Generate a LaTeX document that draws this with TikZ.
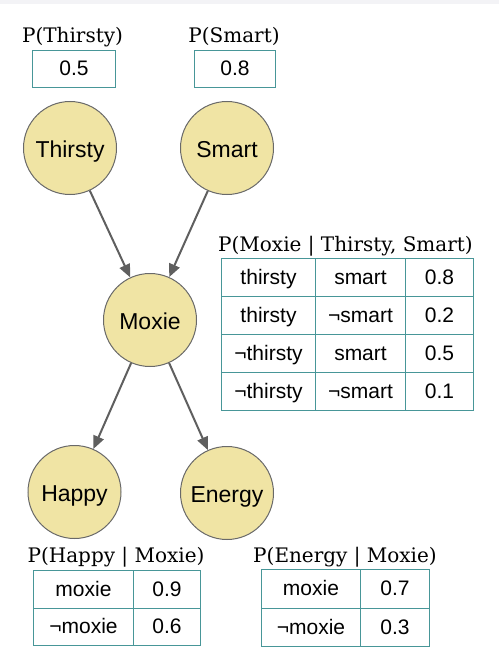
\documentclass[tikz,border=0pt]{standalone}
\usepackage{fontspec}
\setsansfont{Liberation Sans}
\newfontfamily\titlefont{DejaVu Serif}
\usetikzlibrary{arrows.meta}
\definecolor{cpt}{RGB}{72,150,152}
\definecolor{nodefill}{RGB}{240,228,164}
\definecolor{nodeline}{RGB}{105,105,105}
\definecolor{arrowc}{RGB}{95,95,95}
\definecolor{topband}{RGB}{243,243,246}
\tikzset{
  var/.style={circle, draw=nodeline, line width=1pt, fill=nodefill, minimum size=93pt, inner sep=0pt, text height=18pt, text depth=0pt, font=\sffamily\fontsize{23}{27}\selectfont},
  cell/.style={draw=cpt, line width=1pt, inner sep=0pt, anchor=north west, text height=14pt, text depth=0pt, font=\sffamily\fontsize{21}{25}\selectfont},
  ttl/.style={anchor=base, inner sep=0pt, font=\titlefont\fontsize{20}{24}\selectfont},
  edgearrow/.style={draw=arrowc, line width=2pt, -{Triangle[length=13pt,width=11pt]}}
}
\begin{document}
\begin{tikzpicture}[x=1pt,y=-1pt]
\useasboundingbox (0,0) rectangle (499,661);
\fill[topband] (0,0) rectangle (499,4);
% priors
\node[ttl] (tT) at (72.5,43) {P(Thirsty)};
\node[ttl] (tS) at (234,43) {P(Smart)};
\node[cell, minimum width=83pt, minimum height=37pt] (pT) at (32,50) {0.5};
\node[cell, minimum width=81pt, minimum height=37pt] (pS) at (194,50) {0.8};
% variables
\node[var] (thirsty) at (70,148) {Thirsty};
\node[var] (smart) at (227,148) {Smart};
\node[var] (moxie) at (150,320) {Moxie};
\node[var] (happy) at (74.5,492) {Happy};
\node[var] (energy) at (227,493) {Energy};
\draw[edgearrow] (thirsty) -- (moxie);
\draw[edgearrow] (smart) -- (moxie);
\draw[edgearrow] (moxie) -- (happy);
\draw[edgearrow] (moxie) -- (energy);
% Moxie CPT
\node[ttl] (tM) at (345.5,251) {P(Moxie | Thirsty, Smart)};
\node[cell, minimum width=94pt, minimum height=38pt] (m11) at (221,258) {thirsty};
\node[cell, minimum width=90pt, minimum height=38pt] (m12) at (315,258) {smart};
\node[cell, minimum width=68pt, minimum height=38pt] (m13) at (405,258) {0.8};
\node[cell, minimum width=94pt, minimum height=38pt] (m21) at (221,296) {thirsty};
\node[cell, minimum width=90pt, minimum height=38pt] (m22) at (315,296) {¬smart};
\node[cell, minimum width=68pt, minimum height=38pt] (m23) at (405,296) {0.2};
\node[cell, minimum width=94pt, minimum height=38pt] (m31) at (221,334) {¬thirsty};
\node[cell, minimum width=90pt, minimum height=38pt] (m32) at (315,334) {smart};
\node[cell, minimum width=68pt, minimum height=38pt] (m33) at (405,334) {0.5};
\node[cell, minimum width=94pt, minimum height=38pt] (m41) at (221,372) {¬thirsty};
\node[cell, minimum width=90pt, minimum height=38pt] (m42) at (315,372) {¬smart};
\node[cell, minimum width=68pt, minimum height=38pt] (m43) at (405,372) {0.1};
% Happy CPT
\node[ttl] (tH) at (116,562) {P(Happy | Moxie)};
\node[cell, minimum width=100pt, minimum height=37.5pt] (h11) at (33,570) {moxie};
\node[cell, minimum width=67pt, minimum height=37.5pt] (h12) at (133,570) {0.9};
\node[cell, minimum width=100pt, minimum height=37.5pt] (h21) at (33,607.5) {¬moxie};
\node[cell, minimum width=67pt, minimum height=37.5pt] (h22) at (133,607.5) {0.6};
% Energy CPT
\node[ttl] (tE) at (345,562) {P(Energy | Moxie)};
\node[cell, minimum width=99pt, minimum height=38.5pt] (e11) at (261,569) {moxie};
\node[cell, minimum width=69pt, minimum height=38.5pt] (e12) at (360,569) {0.7};
\node[cell, minimum width=99pt, minimum height=38.5pt] (e21) at (261,607.5) {¬moxie};
\node[cell, minimum width=69pt, minimum height=38.5pt] (e22) at (360,607.5) {0.3};
\end{tikzpicture}
\end{document}
